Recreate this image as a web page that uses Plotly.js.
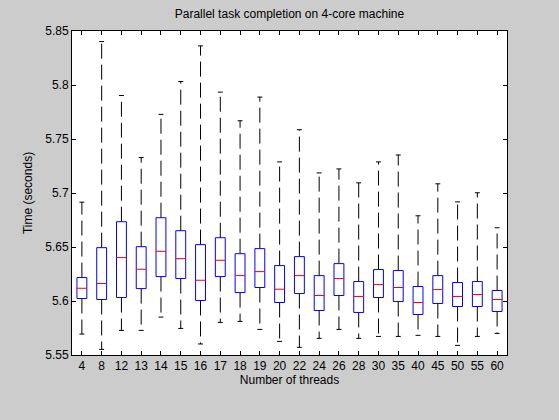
<!DOCTYPE html>
<html>
<head>
<meta charset="utf-8">
<script src="https://cdn.plot.ly/plotly-3.0.1.min.js"></script>
<style>html,body{margin:0;padding:0;background:#cccccc;}#chart{width:559px;height:420px;}</style>
</head>
<body>
<div id="chart"></div>
<script>
// Data
const threads = ["4","8","12","13","14","15","16","17","18","19","20","22","24","26","28","30","35","40","45","50","55","60"];
const upperWhisker = [5.6915,5.8402,5.7903,5.7328,5.7728,5.8032,5.8362,5.7934,5.7669,5.7888,5.7288,5.7586,5.7186,5.7223,5.7094,5.7288,5.7352,5.6789,5.7085,5.6918,5.7002,5.6678];
const q3 = [5.6217,5.6494,5.6734,5.6503,5.6771,5.6651,5.6522,5.6586,5.6438,5.6485,5.6328,5.6411,5.6235,5.6346,5.6180,5.6291,5.6282,5.6134,5.6235,5.6171,5.6180,5.6097];
const median = [5.6118,5.6162,5.6402,5.6294,5.6460,5.6392,5.6192,5.6377,5.6235,5.6272,5.6109,5.6235,5.6051,5.6208,5.6042,5.6152,5.6125,5.5986,5.6106,5.6042,5.6060,5.6014];
const q1 = [5.6023,5.6014,5.6032,5.6115,5.6226,5.6208,5.6005,5.6226,5.6078,5.6125,5.5986,5.6069,5.5912,5.6051,5.5894,5.6032,5.5995,5.5875,5.5977,5.5949,5.5949,5.5903];
const lowerWhisker = [5.5694,5.5552,5.5728,5.5728,5.5851,5.5746,5.5602,5.5802,5.5811,5.5737,5.5626,5.5571,5.5654,5.5737,5.5654,5.5672,5.5672,5.5682,5.5672,5.5589,5.5672,5.5700];
const yTicks = [5.55,5.6,5.65,5.7,5.75,5.8,5.85];
const yTickText = ["5.55","5.6","5.65","5.7","5.75","5.8","5.85"];

const boxHalf = 0.25, capHalf = 0.125;
const wx = [], wy = [], cx = [], cy = [], bx = [], by = [], mx = [], my = [];
threads.forEach((t, i) => {
  const p = i + 1;
  wx.push(p, p, null, p, p, null);
  wy.push(q3[i], upperWhisker[i], null, q1[i], lowerWhisker[i], null);
  cx.push(p - capHalf, p + capHalf, null, p - capHalf, p + capHalf, null);
  cy.push(upperWhisker[i], upperWhisker[i], null, lowerWhisker[i], lowerWhisker[i], null);
  bx.push(p - boxHalf, p + boxHalf, p + boxHalf, p - boxHalf, p - boxHalf, null);
  by.push(q1[i], q1[i], q3[i], q3[i], q1[i], null);
  mx.push(p - boxHalf, p + boxHalf, null);
  my.push(median[i], median[i], null);
});
const positions = threads.map((t, i) => i + 1);

const traces = [
  {x: wx, y: wy, mode: 'lines', line: {color: '#000000', width: 1, dash: '15px,6px'}, hoverinfo: 'skip'},
  {x: cx, y: cy, mode: 'lines', line: {color: '#000000', width: 1}, hoverinfo: 'skip'},
  {x: bx, y: by, mode: 'lines', line: {color: '#0000ff', width: 1}, hoverinfo: 'skip'},
  {x: mx, y: my, mode: 'lines', line: {color: '#ff0000', width: 1}, hoverinfo: 'skip'}
];

const font = {family: 'Liberation Sans, Arial, sans-serif', size: 12, color: '#000000'};
const layout = {
  width: 559, height: 420,
  paper_bgcolor: '#cccccc', plot_bgcolor: '#ffffff',
  showlegend: false,
  font: font,
  margin: {l: 72, r: 52, t: 31, b: 65, pad: 0},
  title: {text: 'Parallel task completion on 4-core machine', font: font, x: 0.5, xref: 'paper', y: 1, yref: 'container', yanchor: 'top', pad: {t: 10}},
  xaxis: {
    range: [0.5, 22.5], tickmode: 'array', tickvals: positions, ticktext: threads,
    ticks: 'inside', ticklen: 4, tickcolor: '#000', showline: true, linecolor: '#000', linewidth: 1,
    mirror: 'ticks', showgrid: false, zeroline: false, tickfont: font,
    title: {text: 'Number of threads', font: font, standoff: 2}
  },
  yaxis: {
    range: [5.55, 5.85], tickmode: 'array', tickvals: yTicks, ticktext: yTickText,
    ticks: 'inside', ticklen: 4, tickcolor: '#000', showline: true, linecolor: '#000', linewidth: 1,
    mirror: 'ticks', showgrid: false, zeroline: false, tickfont: font,
    title: {text: 'Time (seconds)', font: font, standoff: 10}
  }
};
Plotly.newPlot('chart', traces, layout, {staticPlot: true, displayModeBar: false});
</script>
</body>
</html>
